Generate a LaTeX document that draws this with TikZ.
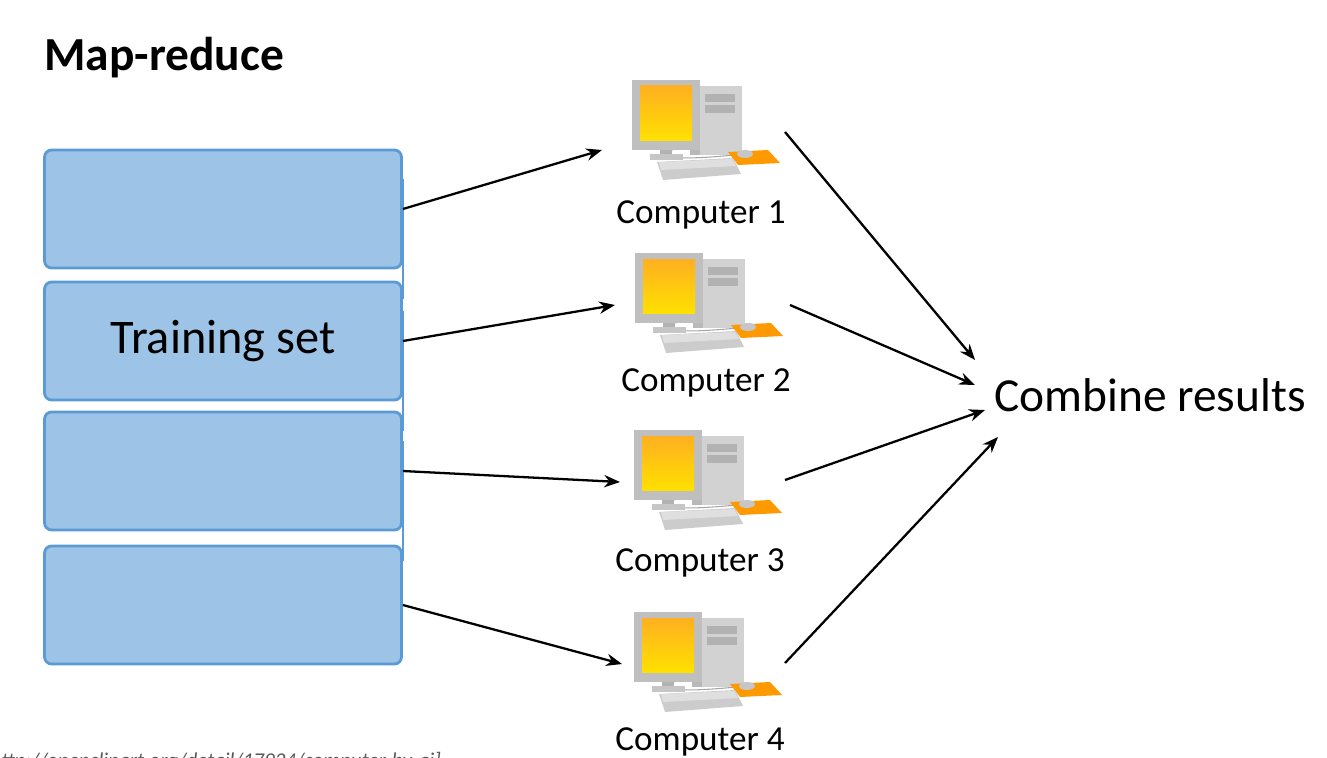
\documentclass[tikz,border=0pt]{standalone}
\usepackage{fontspec}
\setmainfont{Carlito}
\usetikzlibrary{arrows.meta}
\definecolor{boxfill}{HTML}{9DC3E6}
\definecolor{boxline}{HTML}{5B9BD5}
\definecolor{scrtop}{HTML}{FFB020}
\definecolor{scrbot}{HTML}{FFE000}
\tikzset{
  part/.style={draw=boxline, fill=boxfill, line width=1.6pt, rounded corners=4pt,
               minimum width=7.14cm, minimum height=2.36cm},
  arr/.style={-{Stealth[length=9pt,width=7pt]}, line width=1.3pt},
  lbl/.style={font=\fontsize{20}{24}\selectfont},
  computer/.pic={
    % tower
    \fill[gray!35] (-15,-44) rectangle (37,25);
    \fill[gray!55] (-15,-44) rectangle (-5,25);
    \fill[gray!60] (0,-36) rectangle (30,-28);
    \fill[gray!60] (0,-25) rectangle (30,-17);
    % cables
    \draw[gray!70, line width=0.6pt] (-30,18) .. controls (-50,30) and (-20,30) .. (40,24);
    % stand
    \fill[gray!60] (-45,18) rectangle (-33,26);
    \fill[gray!45] (-55,24) rectangle (-22,30);
    % monitor
    \fill[gray!50] (-73,-50) rectangle (-5,20);
    \shade[top color=scrtop, bottom color=scrbot] (-65,-44) rectangle (-13,10);
    % mouse pad and mouse
    \fill[orange!80!yellow] (23,22) -- (63,20) -- (75,33) -- (33,35) -- cycle;
    \fill[gray!45] (40,24) ellipse (8 and 4);
    % keyboard
    \fill[gray!40] (-48,32) -- (28,28) -- (36,44) -- (-42,50) -- cycle;
    \fill[gray!25] (-46,32) -- (27,29) -- (31,36) -- (-44,40) -- cycle;
  }
}
\begin{document}
\begin{tikzpicture}[x=0.02cm, y=-0.02cm]
  \useasboundingbox (0,0) rectangle (1327,757);

  \node[anchor=west, font=\bfseries\fontsize{27}{32}\selectfont] (title) at (38,58) {Map-reduce};

  % stacked parts of the training set
  \foreach \y in {209, 341, 471}
    \draw[boxline, line width=1.2pt] (403,\y-30) -- (403,\y+90);
  \node[part] (b1) at (223,209) {};
  \node[part] (b2) at (223,341) {\fontsize{27.5}{32}\selectfont Training set};
  \node[part] (b3) at (223,471) {};
  \node[part] (b4) at (223,605) {};

  % computers
  \pic at (705,130) {computer};
  \pic at (708,303) {computer};
  \pic at (707,480) {computer};
  \pic at (707,662) {computer};
  \node[lbl] (c1) at (701,215) {Computer 1};
  \node[lbl] (c2) at (706,383) {Computer 2};
  \node[lbl] (c3) at (700,563) {Computer 3};
  \node[lbl] (c4) at (700,742) {Computer 4};

  \node[font=\fontsize{27}{32}\selectfont] (comb) at (1150,395) {Combine results};

  \coordinate (i1) at (602,150);
  \coordinate (i2) at (615,305);
  \coordinate (i3) at (620,482);
  \coordinate (i4) at (622,664);
  \coordinate (o1) at (785,132);
  \coordinate (o2) at (790,305);
  \coordinate (o3) at (785,480);
  \coordinate (o4) at (785,663);

  \draw[arr] (b1.east) -- (i1);
  \draw[arr] (b2.east) -- (i2);
  \draw[arr] (b3.east) -- (i3);
  \draw[arr] (b4.east) -- (i4);

  \draw[arr] (o1) -- (975,360);
  \draw[arr] (o2) -- (975,385);
  \draw[arr] (o3) -- (985,410);
  \draw[arr] (o4) -- (998,437);

  \node[anchor=west, font=\itshape\fontsize{12}{14}\selectfont, text=gray!70!black] (src) at (-22,762)
    {[http://openclipart.org/detail/17924/computer-by-aj]};
\end{tikzpicture}
\end{document}
